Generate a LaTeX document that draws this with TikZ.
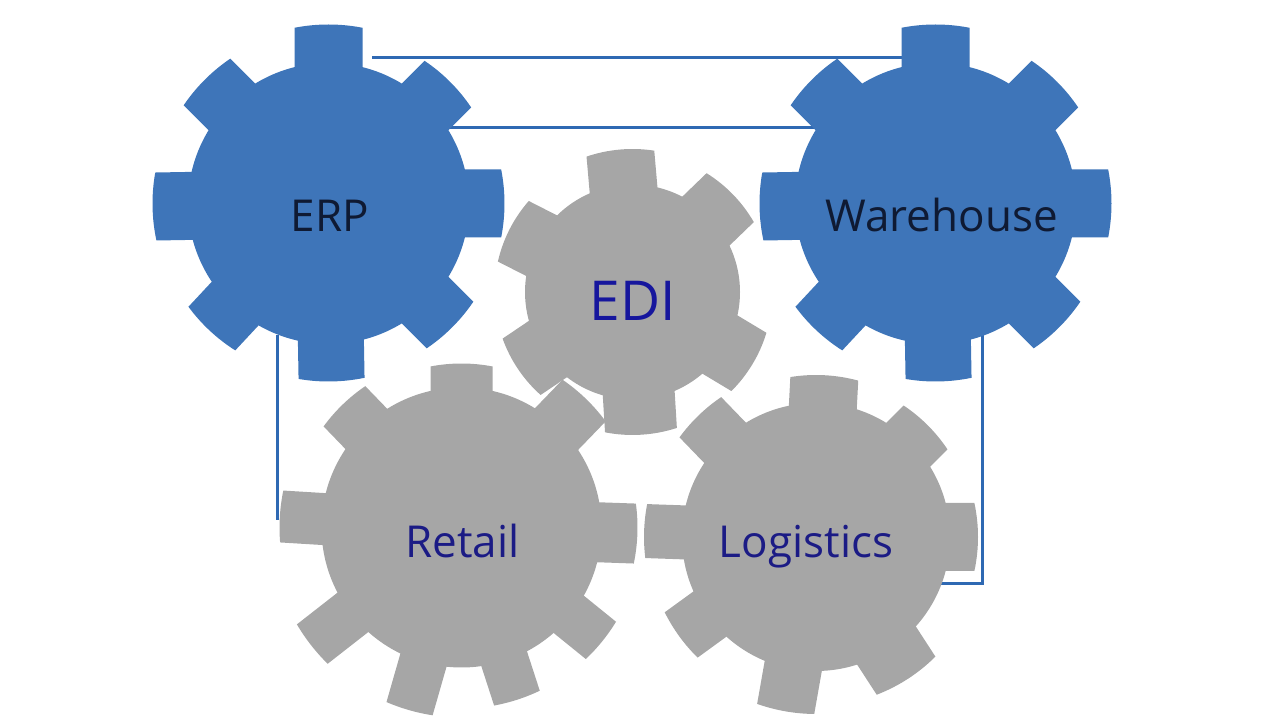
\documentclass[tikz,border=0pt]{standalone}
\usepackage{fontspec}
\setmainfont{Open Sans}
\definecolor{gearblue}{HTML}{3E75B9}
\definecolor{geargray}{HTML}{A6A6A6}
\definecolor{linkblue}{HTML}{2F69B3}
\definecolor{inkblue}{HTML}{1B1B85}
\definecolor{inkdark}{HTML}{0F1A33}
\tikzset{
  >=latex,
  link/.style = {draw = linkblue, line width = 3pt, line join = miter},
  gear label/.style = {anchor = base, inner sep = 0, font = \fontsize{#1}{#1}\selectfont},
  gear label/.default = 44,
}
% center, body radius, colour, teeth as angle/radius/half width
\newcommand{\gearwheel}[4]{
  \begin{scope}[shift={(#1)}]
    \fill[#3] (0,0) circle (#2);
    \foreach \a/\r/\w in {#4} {
      \pgfmathsetmacro{\d}{asin(\w/\r)}
      \fill[#3, rotate=\a] (0,-\w) -- (-\d:\r)
        arc[start angle=-\d, end angle=\d, radius=\r] -- (0,\w) -- cycle;
    }
  \end{scope}
}
\begin{document}
\begin{tikzpicture}[x=1pt, y=1pt]
\useasboundingbox (0,0) rectangle (1280,720);
\coordinate (erpTop) at (372,662);
\coordinate (houseTop) at (905,662);
\coordinate (erpMid) at (445,592);
\coordinate (houseMid) at (815,592);
\coordinate (erpLow) at (277.5,385);
\coordinate (retailEdge) at (277.5,200);
\coordinate (houseLow) at (982.5,385);
\coordinate (logisticsEdge) at (935,136.5);
\draw[link] (erpTop) -- (houseTop);
\draw[link] (erpMid) -- (houseMid);
\draw[link] (erpLow) -- (retailEdge);
\draw[link] (houseLow) |- (logisticsEdge);
\gearwheel{328.5,516.5}{140.5}{gearblue}{90/179/34, 45/172/33, 0/176/34, -45/175/33,
  271/178/33, 227/174/32, 181/176/34, 135/175/33}
\gearwheel{935.5,516.5}{140.5}{gearblue}{90/179/34, 45/172/33, 0/176/34, -45/175/33,
  271/178/33, 227/174/32, 181/176/34, 135/175/33}
\gearwheel{632.5,428}{107.5}{geargray}{95/143/34, 44/140/34, -31/140/34, -86.5/143/36,
  214/138/34, 153/138/34}
\gearwheel{461.5,192.5}{140}{geargray}{90/164/31, 46/179/30, -2/176/30, -39/181/24,
  -72/181/24, 254/190/24, 218/191/25, 176.5/182/26, 134/171/29}
\gearwheel{816,183}{134}{geargray}{87/162/34, 45/158/31, 0/162/34, -57/169/35,
  260/177/29, 216/169/28, 178/172/27, 134/169/29}
\node[gear label, text=inkdark] (erp) at (330,488) {ERP};
\node[gear label, text=inkdark] (house) at (941.5,488) {Warehouse};
\node[gear label=55, text=inkblue!80!blue] (edi) at (632.5,399) {EDI};
\node[gear label, text=inkblue] (retail) at (462.5,162) {Retail};
\node[gear label, text=inkblue] (logistics) at (806,162) {Logistics};
\end{tikzpicture}
\end{document}
